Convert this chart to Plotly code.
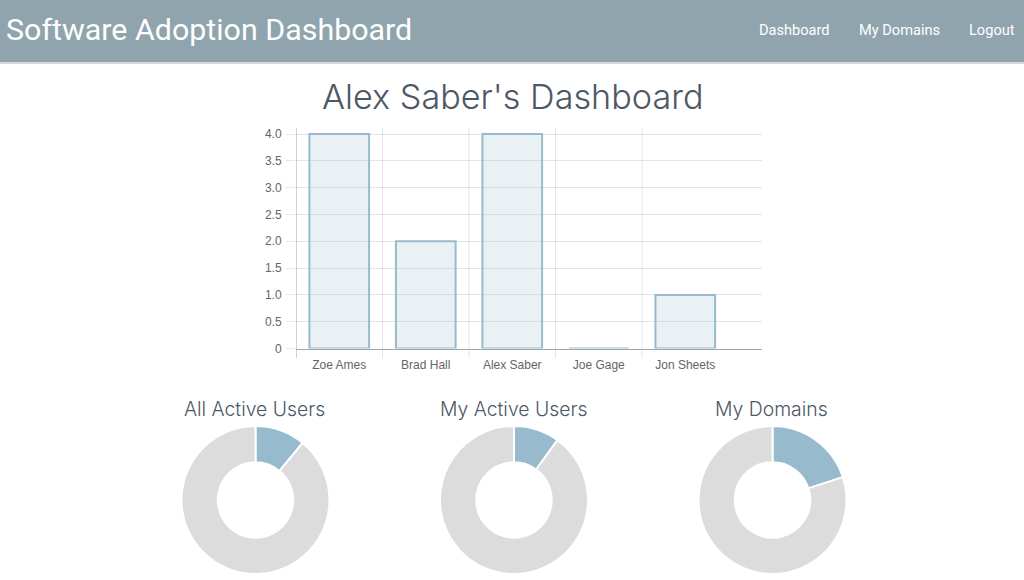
import plotly.graph_objects as go

W, H = 1024, 580

# Data
users = ["Zoe Ames", "Brad Hall", "Alex Saber", "Joe Gage", "Jon Sheets"]
user_counts = [4, 2, 4, 0, 1]
y_ticks = [0, 0.5, 1, 1.5, 2, 2.5, 3, 3.5, 4]
y_tick_labels = ["0", "0.5", "1.0", "1.5", "2.0", "2.5", "3.0", "3.5", "4.0"]

donut_titles = ["All Active Users", "My Active Users", "My Domains"]
donut_labels = ["Active", "Other"]
all_active = [11, 89]
my_active = [10, 90]
my_domains = [20, 80]

nav_items = ["Dashboard", "My Domains", "Logout"]

BLUE = "#97bbcd"
GREY = "#dcdcdc"
GRID = "rgba(0,0,0,0.1)"
AXIS = "#a6a6a6"
TITLE_COLOR = "#4d5866"


def px(x):
    return x / W


def py(y):
    return 1 - y / H


fig = go.Figure()

# Bar chart
fig.add_trace(go.Bar(
    x=users, y=user_counts, width=0.69, cliponaxis=False,
    marker=dict(color="rgba(151,187,205,0.2)", line=dict(color=BLUE, width=2)),
    showlegend=False,
))

# Donuts
centers = [255.5, 514, 772.5]
for title, values, cx in zip(donut_titles, [all_active, my_active, my_domains], centers):
    fig.add_trace(go.Pie(
        labels=donut_labels, values=values, hole=0.51, sort=False,
        direction="clockwise", rotation=0, textinfo="none", showlegend=False,
        marker=dict(colors=[BLUE, GREY], line=dict(color="white", width=2)),
        domain=dict(x=[px(cx - 74), px(cx + 74)], y=[py(574), py(426)]),
    ))
    fig.add_annotation(text=title, x=px(cx - 1), y=py(409), xref="paper", yref="paper",
                       showarrow=False, xanchor="center", yanchor="middle", borderpad=0,
                       font=dict(family="Inter", size=19.4, weight=300, color=TITLE_COLOR))

fig.update_xaxes(
    domain=[px(296), px(762)], range=[-0.5, 4.887], type="category",
    ticks="", showgrid=False, showline=True, linecolor=AXIS, zeroline=False,
    ticklabelstandoff=5,
    tickfont=dict(family="Liberation Sans", size=12, color="#666666"),
)
fig.update_yaxes(
    domain=[py(348.5), py(128)], range=[0, 4.112], tickvals=y_ticks, ticktext=y_tick_labels,
    ticks="outside", ticklen=9, tickcolor=GRID, showgrid=True, gridcolor=GRID,
    showline=False, zeroline=False, ticklabelstandoff=2,
    tickfont=dict(family="Liberation Sans", size=12, color="#666666"),
)

# Vertical grid between the categories, running past the plot area as in the original
for boundary, color in zip([-0.5, 0.5, 1.5, 2.5, 3.5], [AXIS, GRID, GRID, GRID, GRID]):
    fig.add_shape(type="line", xref="x", yref="paper", x0=boundary, x1=boundary,
                  y0=py(358), y1=py(128), line=dict(color=color, width=1), layer="below")

# Header bar with its shadow
fig.add_shape(type="rect", xref="paper", yref="paper", x0=0, x1=1, y0=py(64), y1=py(62),
              fillcolor="#d3d7d9", line_width=0, layer="below")
fig.add_shape(type="rect", xref="paper", yref="paper", x0=0, x1=1, y0=py(62), y1=1,
              fillcolor="#90a4ae", line_width=0, layer="below")

fig.add_annotation(text="Software Adoption Dashboard", x=px(5), y=py(30), xref="paper", yref="paper",
                   showarrow=False, xanchor="left", yanchor="middle", borderpad=0,
                   font=dict(family="Roboto", size=30.4, color="white"))
for item, right in zip(nav_items, [830.5, 941, 1016]):
    fig.add_annotation(text=item, x=px(right), y=py(30), xref="paper", yref="paper",
                       showarrow=False, xanchor="right", yanchor="middle", borderpad=0,
                       font=dict(family="Roboto", size=14.6, color="white"))

fig.add_annotation(text="Alex Saber's Dashboard", x=px(512.5), y=py(96), xref="paper", yref="paper",
                   showarrow=False, xanchor="center", yanchor="middle", borderpad=0,
                   font=dict(family="Inter", size=34.2, weight=300, color=TITLE_COLOR))

fig.update_layout(
    width=W, height=H, margin=dict(l=0, r=0, t=0, b=0, autoexpand=False),
    paper_bgcolor="white", plot_bgcolor="white", showlegend=False,
)

fig.write_html("out.html", config=dict(displayModeBar=False),
               post_script="document.body.style.margin='0';document.body.style.overflow='hidden';")
